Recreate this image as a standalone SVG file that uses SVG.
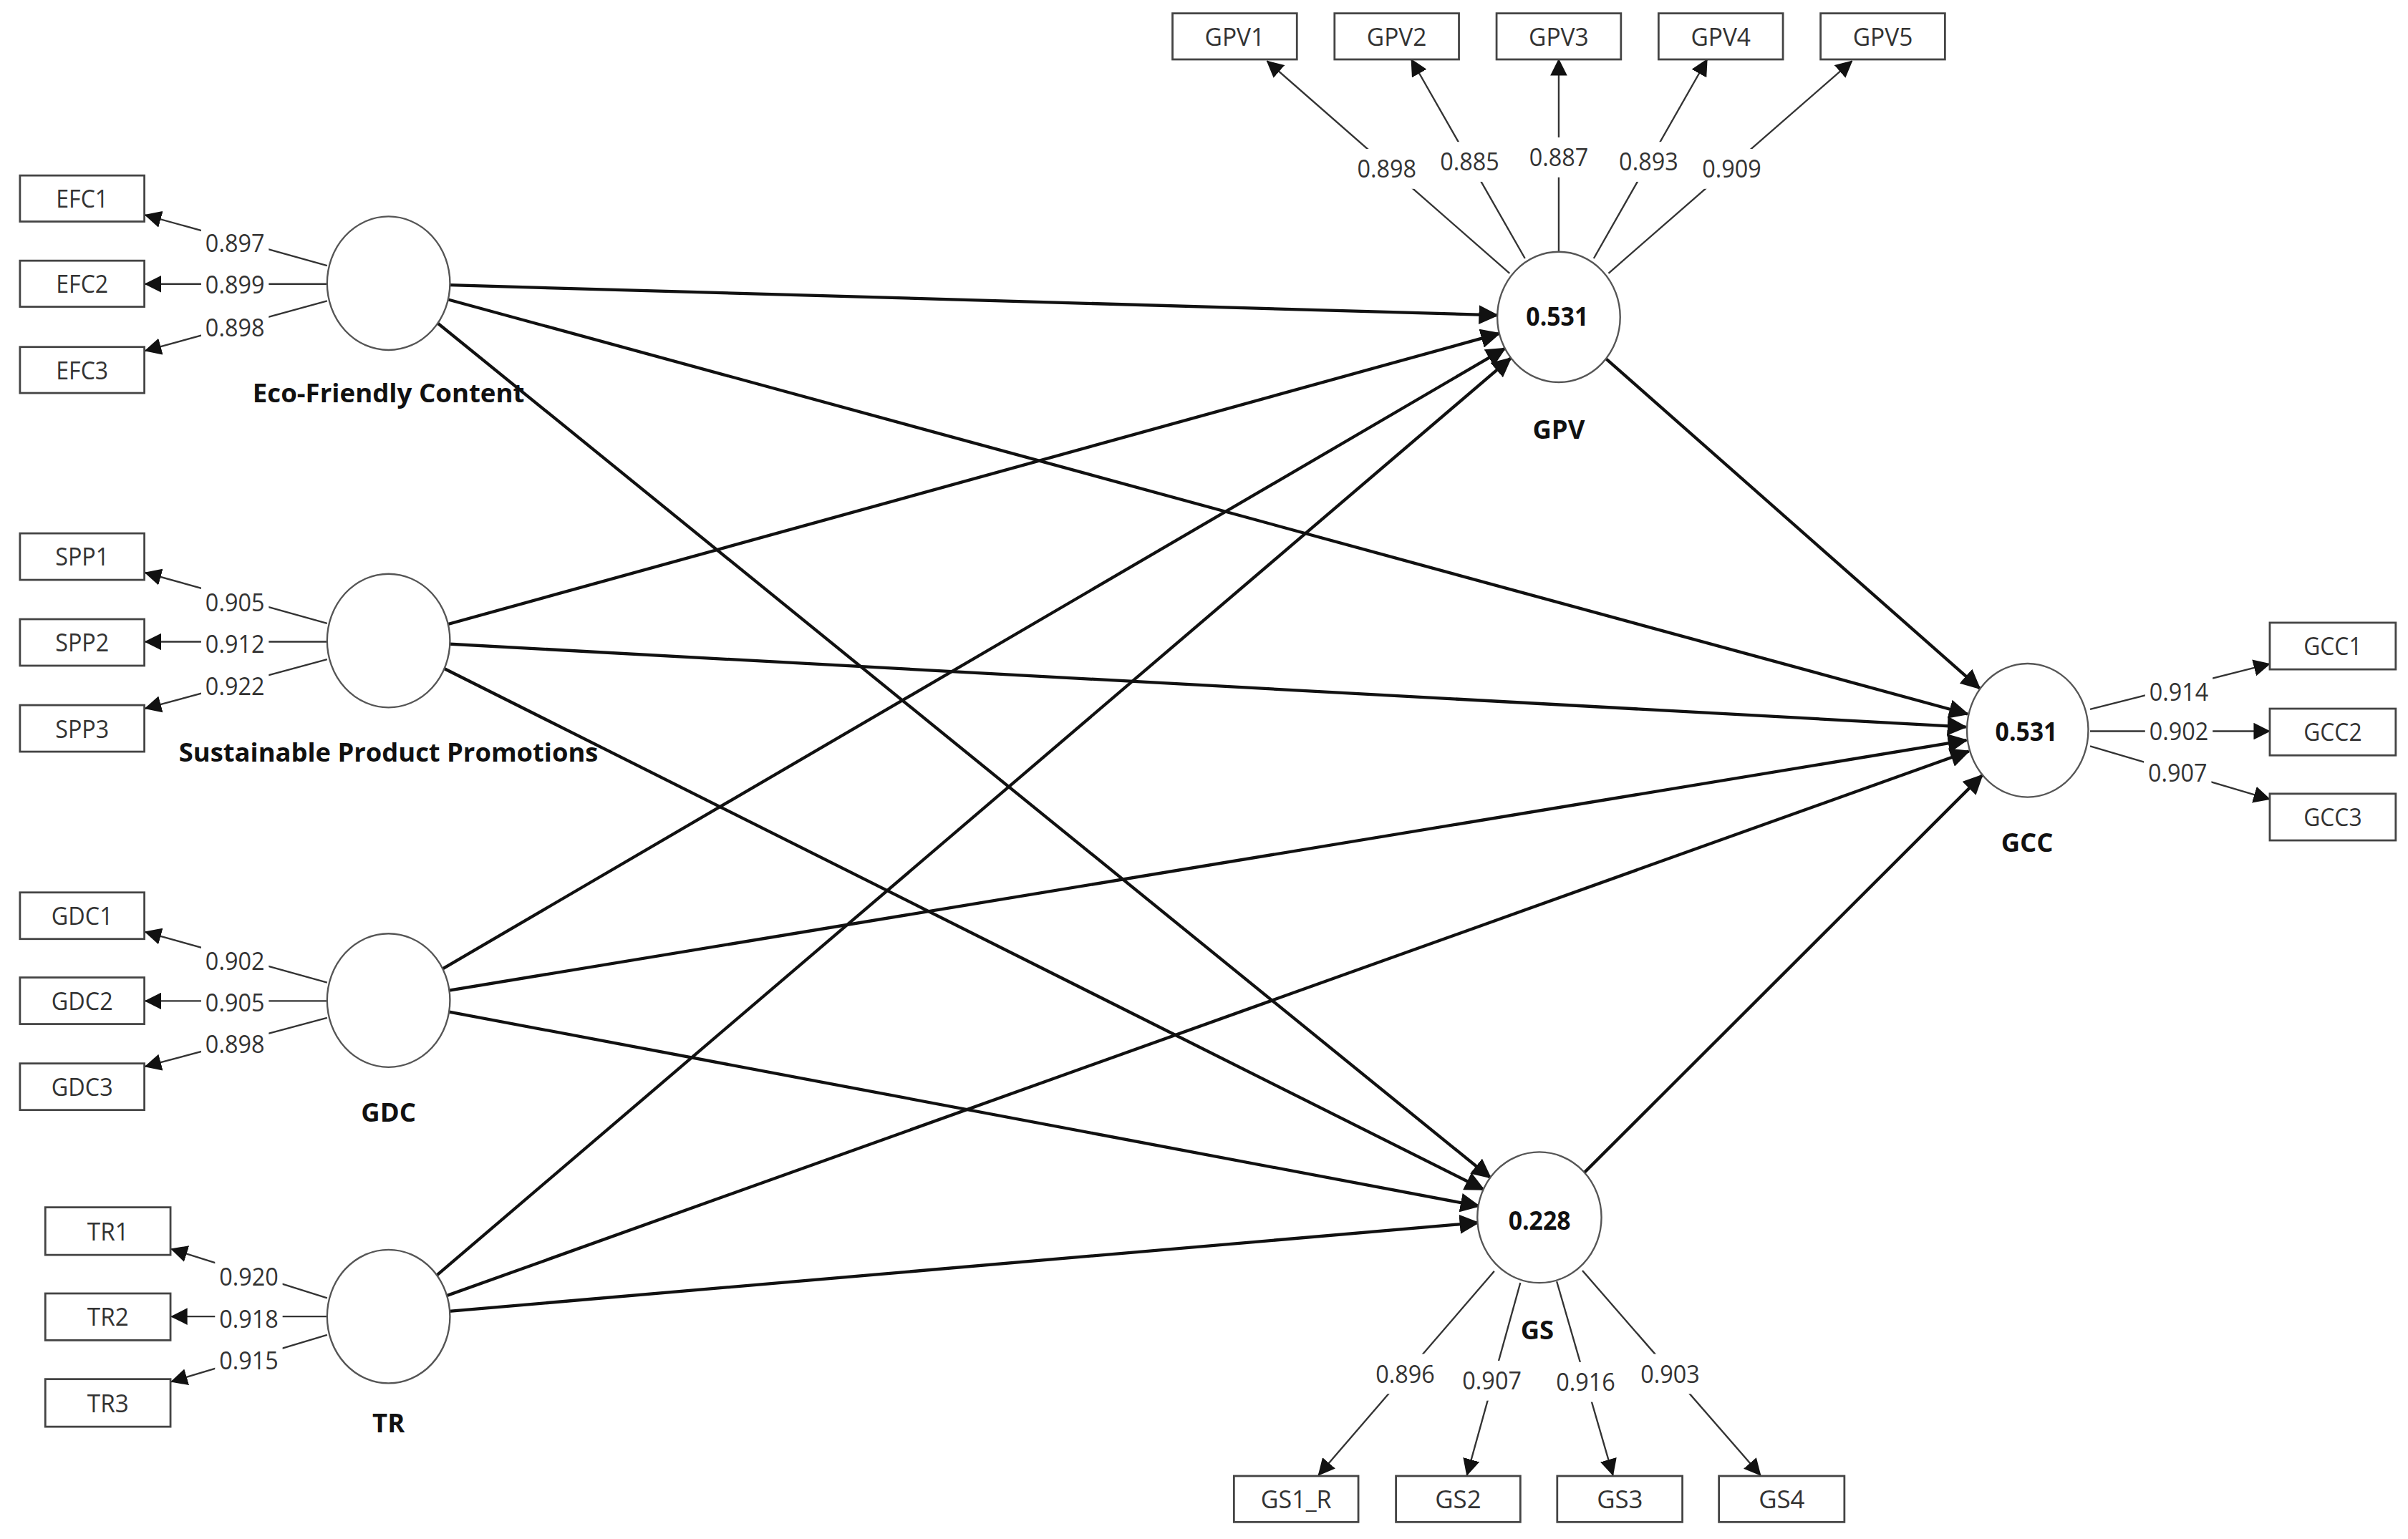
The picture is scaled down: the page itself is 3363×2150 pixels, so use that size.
<svg xmlns="http://www.w3.org/2000/svg" width="3363" height="2150" viewBox="0 0 3363 2150">
<style>
.bx{fill:#fff;stroke:#444;stroke-width:1.3}
.bt{font-family:"Open Sans","Noto Sans","DejaVu Sans",sans-serif;font-size:16.5px;fill:#333;text-anchor:middle}
.lv{fill:#fff;stroke:#555;stroke-width:1.1}
.lb{font-family:"Open Sans","Noto Sans","DejaVu Sans",sans-serif;font-size:17px;font-weight:bold;fill:#111;text-anchor:middle}
.r2{font-family:"Open Sans","Noto Sans","DejaVu Sans",sans-serif;font-size:17px;font-weight:bold;fill:#111;text-anchor:middle}
.pl{stroke:#111;stroke-width:2;fill:none;marker-end:url(#ah)}
.il{stroke:#333;stroke-width:1.1;fill:none;marker-end:url(#ai)}
.lr{fill:#fff}
.ld{font-family:"Open Sans","Noto Sans","DejaVu Sans",sans-serif;font-size:16.5px;fill:#333;text-anchor:middle}
</style>
<defs>
<marker id="ah" markerUnits="userSpaceOnUse" markerWidth="13" markerHeight="12.5" viewBox="0 0 13 12.5" refX="12" refY="6.25" orient="auto"><path d="M0,0 L13,6.25 L0,12.5 z" fill="#111"/></marker>
<marker id="ai" markerUnits="userSpaceOnUse" markerWidth="11" markerHeight="11" viewBox="0 0 11 11" refX="10.5" refY="5.5" orient="auto"><path d="M0,0 L11,5.5 L0,11 z" fill="#111"/></marker>
</defs>
<rect x="0" y="0" width="3363" height="2150" fill="#fff"/>
<g transform="scale(2.14477)">
<g id="connectors">
<path class="pl" d="M253,184.5 L975.0,205.3"/>
<path class="pl" d="M253,184.5 L1281.2,465.1"/>
<path class="pl" d="M253,184.5 L970.5,767.1"/>
<path class="pl" d="M253,417.3 L976.3,217.2"/>
<path class="pl" d="M253,417.3 L1280.1,473.5"/>
<path class="pl" d="M253,417.3 L966.1,774.8"/>
<path class="pl" d="M253,651.6 L979.9,227.0"/>
<path class="pl" d="M253,651.6 L1280.5,482.2"/>
<path class="pl" d="M253,651.6 L963.0,785.6"/>
<path class="pl" d="M253,857.5 L983.7,233.3"/>
<path class="pl" d="M253,857.5 L1282.0,489.3"/>
<path class="pl" d="M253,857.5 L962.5,796.4"/>
<path class="pl" d="M1015,206.5 L1289.1,448.4"/>
<path class="pl" d="M1002.4,793 L1290.7,505.0"/>

<path class="il" d="M213,173 L94.5,140"/>
<path class="il" d="M213,185 L94.5,185"/>
<path class="il" d="M213,196 L94.5,228.5"/>
<path class="il" d="M213,406 L94.5,373"/>
<path class="il" d="M213,418 L94.5,418"/>
<path class="il" d="M213,429.5 L94.5,461.5"/>
<path class="il" d="M213,640 L94.5,607"/>
<path class="il" d="M213,652 L94.5,652"/>
<path class="il" d="M213,663 L94.5,694.7"/>
<path class="il" d="M213,845.5 L111.5,813.5"/>
<path class="il" d="M213,857.5 L111.5,857.5"/>
<path class="il" d="M213,869.5 L111.5,900"/>
<path class="il" d="M983,178 L825,39.7"/>
<path class="il" d="M993,168.3 L919,38.7"/>
<path class="il" d="M1015,164 L1015,38.7"/>
<path class="il" d="M1037.8,168.3 L1111.6,38.7"/>
<path class="il" d="M1047.4,178 L1206,39.7"/>
<path class="il" d="M1361,462 L1478,432.4"/>
<path class="il" d="M1361,476.3 L1478,476.3"/>
<path class="il" d="M1361,486 L1478,520.6"/>
<path class="il" d="M973,828 L858.5,960.9"/>
<path class="il" d="M990,835.5 L955.2,960.9"/>
<path class="il" d="M1013.7,834.7 L1050.3,960.9"/>
<path class="il" d="M1030.4,827.6 L1146.4,960.9"/>

<g id="loadings">
<rect class="lr" x="131" y="145" width="44" height="26"/><text class="ld" x="153" y="164.3" textLength="38.5" lengthAdjust="spacingAndGlyphs">0.897</text>
<rect class="lr" x="131" y="172.5" width="44" height="26"/><text class="ld" x="153" y="191.3" textLength="38.5" lengthAdjust="spacingAndGlyphs">0.899</text>
<rect class="lr" x="131" y="200.5" width="44" height="26"/><text class="ld" x="153" y="219.3" textLength="38.5" lengthAdjust="spacingAndGlyphs">0.898</text>
<rect class="lr" x="131" y="379.4" width="44" height="26"/><text class="ld" x="153" y="398.2" textLength="38.5" lengthAdjust="spacingAndGlyphs">0.905</text>
<rect class="lr" x="131" y="406.6" width="44" height="26"/><text class="ld" x="153" y="425.4" textLength="38.5" lengthAdjust="spacingAndGlyphs">0.912</text>
<rect class="lr" x="131" y="433.8" width="44" height="26"/><text class="ld" x="153" y="452.6" textLength="38.5" lengthAdjust="spacingAndGlyphs">0.922</text>
<rect class="lr" x="131" y="613" width="44" height="26"/><text class="ld" x="153" y="631.8" textLength="38.5" lengthAdjust="spacingAndGlyphs">0.902</text>
<rect class="lr" x="131" y="639.8" width="44" height="26"/><text class="ld" x="153" y="658.6" textLength="38.5" lengthAdjust="spacingAndGlyphs">0.905</text>
<rect class="lr" x="131" y="667" width="44" height="26"/><text class="ld" x="153" y="685.8" textLength="38.5" lengthAdjust="spacingAndGlyphs">0.898</text>
<rect class="lr" x="140" y="818.5" width="44" height="26"/><text class="ld" x="162" y="837.3" textLength="38.5" lengthAdjust="spacingAndGlyphs">0.920</text>
<rect class="lr" x="140" y="846" width="44" height="26"/><text class="ld" x="162" y="864.8" textLength="38.5" lengthAdjust="spacingAndGlyphs">0.918</text>
<rect class="lr" x="140" y="873" width="44" height="26"/><text class="ld" x="162" y="891.8" textLength="38.5" lengthAdjust="spacingAndGlyphs">0.915</text>
<rect class="lr" x="881" y="97" width="44" height="26"/><text class="ld" x="903" y="115.8" textLength="38.5" lengthAdjust="spacingAndGlyphs">0.898</text>
<rect class="lr" x="935" y="92.4" width="44" height="26"/><text class="ld" x="957" y="111.2" textLength="38.5" lengthAdjust="spacingAndGlyphs">0.885</text>
<rect class="lr" x="993" y="89.5" width="44" height="26"/><text class="ld" x="1015" y="108.3" textLength="38.5" lengthAdjust="spacingAndGlyphs">0.887</text>
<rect class="lr" x="1051.5" y="92.4" width="44" height="26"/><text class="ld" x="1073.5" y="111.2" textLength="38.5" lengthAdjust="spacingAndGlyphs">0.893</text>
<rect class="lr" x="1105.6" y="97" width="44" height="26"/><text class="ld" x="1127.6" y="115.8" textLength="38.5" lengthAdjust="spacingAndGlyphs">0.909</text>
<rect class="lr" x="1396.8" y="437.7" width="44" height="25"/><text class="ld" x="1418.8" y="456.5" textLength="38.5" lengthAdjust="spacingAndGlyphs">0.914</text>
<rect class="lr" x="1396.8" y="463.8" width="44" height="25"/><text class="ld" x="1418.8" y="482.1" textLength="38.5" lengthAdjust="spacingAndGlyphs">0.902</text>
<rect class="lr" x="1396" y="491" width="44" height="25"/><text class="ld" x="1418" y="509.3" textLength="38.5" lengthAdjust="spacingAndGlyphs">0.907</text>
<rect class="lr" x="893" y="881.9" width="44" height="26"/><text class="ld" x="915" y="900.7" textLength="38.5" lengthAdjust="spacingAndGlyphs">0.896</text>
<rect class="lr" x="949.5" y="886.3" width="44" height="26"/><text class="ld" x="971.5" y="905.1" textLength="38.5" lengthAdjust="spacingAndGlyphs">0.907</text>
<rect class="lr" x="1010.5" y="887.2" width="44" height="26"/><text class="ld" x="1032.5" y="906" textLength="38.5" lengthAdjust="spacingAndGlyphs">0.916</text>
<rect class="lr" x="1065.5" y="881.9" width="44" height="26"/><text class="ld" x="1087.5" y="900.7" textLength="38.5" lengthAdjust="spacingAndGlyphs">0.903</text>
</g>
</g>

<g id="EFC"><ellipse class="lv" cx="253" cy="184.5" rx="40" ry="43.5"/><text class="lb" x="253" y="262" textLength="177" lengthAdjust="spacingAndGlyphs">Eco-Friendly Content</text></g>
<g id="SPP"><ellipse class="lv" cx="253" cy="417.3" rx="40" ry="43.5"/><text class="lb" x="253" y="496" textLength="273" lengthAdjust="spacingAndGlyphs">Sustainable Product Promotions</text></g>
<g id="GDC"><ellipse class="lv" cx="253" cy="651.6" rx="40" ry="43.5"/><text class="lb" x="253" y="730.5">GDC</text></g>
<g id="TR"><ellipse class="lv" cx="253" cy="857.5" rx="40" ry="43.5"/><text class="lb" x="253" y="933">TR</text></g>
<g id="GPV"><ellipse class="lv" cx="1015" cy="206.5" rx="40" ry="42.5"/><text class="r2" x="1014" y="212.3" textLength="40.5" lengthAdjust="spacingAndGlyphs">0.531</text><text class="lb" x="1015" y="286">GPV</text></g>
<g id="GCC"><ellipse class="lv" cx="1320.3" cy="475.7" rx="39.5" ry="43.5"/><text class="r2" x="1319.5" y="482.5" textLength="40.5" lengthAdjust="spacingAndGlyphs">0.531</text><text class="lb" x="1320" y="555">GCC</text></g>
<g id="GS"><ellipse class="lv" cx="1002.4" cy="793" rx="40.4" ry="42.6"/><text class="r2" x="1002.5" y="801" textLength="40.5" lengthAdjust="spacingAndGlyphs">0.228</text><text class="lb" x="1001" y="872.5">GS</text></g>

<g id="EFC1"><rect class="bx" x="13" y="114.3" width="81" height="30"/><text class="bt" x="53.5" y="135.3" textLength="34" lengthAdjust="spacingAndGlyphs">EFC1</text></g>
<g id="EFC2"><rect class="bx" x="13" y="169.8" width="81" height="30"/><text class="bt" x="53.5" y="190.8" textLength="34" lengthAdjust="spacingAndGlyphs">EFC2</text></g>
<g id="EFC3"><rect class="bx" x="13" y="226" width="81" height="30"/><text class="bt" x="53.5" y="247" textLength="34" lengthAdjust="spacingAndGlyphs">EFC3</text></g>
<g id="SPP1"><rect class="bx" x="13" y="347.4" width="81" height="30.3"/><text class="bt" x="53.5" y="368.5" textLength="35" lengthAdjust="spacingAndGlyphs">SPP1</text></g>
<g id="SPP2"><rect class="bx" x="13" y="403.3" width="81" height="30.3"/><text class="bt" x="53.5" y="424.5" textLength="35" lengthAdjust="spacingAndGlyphs">SPP2</text></g>
<g id="SPP3"><rect class="bx" x="13" y="459.3" width="81" height="30.3"/><text class="bt" x="53.5" y="480.5" textLength="35" lengthAdjust="spacingAndGlyphs">SPP3</text></g>
<g id="GDC1"><rect class="bx" x="13" y="581.3" width="81" height="30.3"/><text class="bt" x="53.5" y="602.5" textLength="40" lengthAdjust="spacingAndGlyphs">GDC1</text></g>
<g id="GDC2"><rect class="bx" x="13" y="636.7" width="81" height="30.3"/><text class="bt" x="53.5" y="657.9" textLength="40" lengthAdjust="spacingAndGlyphs">GDC2</text></g>
<g id="GDC3"><rect class="bx" x="13" y="692.7" width="81" height="30.3"/><text class="bt" x="53.5" y="713.9" textLength="40" lengthAdjust="spacingAndGlyphs">GDC3</text></g>
<g id="TR1"><rect class="bx" x="29.5" y="786.4" width="81.5" height="31"/><text class="bt" x="70.3" y="807.9" textLength="27" lengthAdjust="spacingAndGlyphs">TR1</text></g>
<g id="TR2"><rect class="bx" x="29.5" y="842.5" width="81.5" height="30.5"/><text class="bt" x="70.3" y="863.7" textLength="27" lengthAdjust="spacingAndGlyphs">TR2</text></g>
<g id="TR3"><rect class="bx" x="29.5" y="898.3" width="81.5" height="31"/><text class="bt" x="70.3" y="919.8" textLength="27" lengthAdjust="spacingAndGlyphs">TR3</text></g>
<g id="GPV1"><rect class="bx" x="763.5" y="8.7" width="81" height="30"/><text class="bt" x="804" y="29.7" textLength="39" lengthAdjust="spacingAndGlyphs">GPV1</text></g>
<g id="GPV2"><rect class="bx" x="869" y="8.7" width="81" height="30"/><text class="bt" x="909.5" y="29.7" textLength="39" lengthAdjust="spacingAndGlyphs">GPV2</text></g>
<g id="GPV3"><rect class="bx" x="974.5" y="8.7" width="81" height="30"/><text class="bt" x="1015" y="29.7" textLength="39" lengthAdjust="spacingAndGlyphs">GPV3</text></g>
<g id="GPV4"><rect class="bx" x="1080" y="8.7" width="81" height="30"/><text class="bt" x="1120.5" y="29.7" textLength="39" lengthAdjust="spacingAndGlyphs">GPV4</text></g>
<g id="GPV5"><rect class="bx" x="1185.5" y="8.7" width="81" height="30"/><text class="bt" x="1226" y="29.7" textLength="39" lengthAdjust="spacingAndGlyphs">GPV5</text></g>
<g id="GCC1"><rect class="bx" x="1478" y="405.6" width="82" height="30.4"/><text class="bt" x="1519" y="426.8" textLength="38" lengthAdjust="spacingAndGlyphs">GCC1</text></g>
<g id="GCC2"><rect class="bx" x="1478" y="461.6" width="82" height="30.4"/><text class="bt" x="1519" y="482.8" textLength="38" lengthAdjust="spacingAndGlyphs">GCC2</text></g>
<g id="GCC3"><rect class="bx" x="1478" y="517" width="82" height="30.4"/><text class="bt" x="1519" y="538" textLength="38" lengthAdjust="spacingAndGlyphs">GCC3</text></g>
<g id="GS1_R"><rect class="bx" x="803.5" y="961.4" width="81" height="30"/><text class="bt" x="844" y="982.4" textLength="46" lengthAdjust="spacingAndGlyphs">GS1_R</text></g>
<g id="GS2"><rect class="bx" x="909" y="961.4" width="81" height="30"/><text class="bt" x="949.5" y="982.4" textLength="30" lengthAdjust="spacingAndGlyphs">GS2</text></g>
<g id="GS3"><rect class="bx" x="1014" y="961.4" width="81.5" height="30"/><text class="bt" x="1054.8" y="982.4" textLength="30" lengthAdjust="spacingAndGlyphs">GS3</text></g>
<g id="GS4"><rect class="bx" x="1119.3" y="961.4" width="81.7" height="30"/><text class="bt" x="1160.2" y="982.4" textLength="30" lengthAdjust="spacingAndGlyphs">GS4</text></g>
</g>
</svg>
